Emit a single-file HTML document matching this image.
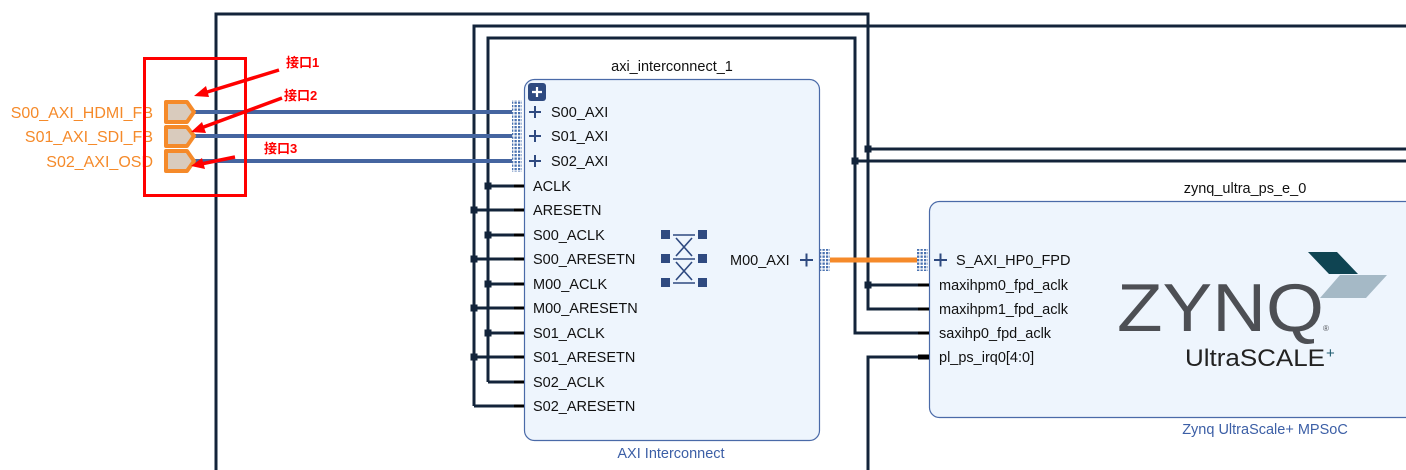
<!DOCTYPE html>
<html><head><meta charset="utf-8"><style>
html,body{margin:0;padding:0;background:#fff;width:1406px;height:470px;overflow:hidden}
svg{display:block}
text{font-family:"Liberation Sans","Noto Sans CJK SC",sans-serif}
</style></head><body>
<svg width="1406" height="470" viewBox="0 0 1406 470" xmlns="http://www.w3.org/2000/svg">
<defs>
<pattern id="dots" width="3.5" height="3.5" patternUnits="userSpaceOnUse"><rect width="2.3" height="2.3" fill="#4a72b0"/></pattern>
</defs>
<rect x="524.5" y="79.5" width="295" height="361" rx="10" fill="#eef5fd" stroke="#4a6aa8" stroke-width="1.2"/>
<rect x="929.5" y="201.5" width="500" height="216" rx="10" fill="#eef5fd" stroke="#4a6aa8" stroke-width="1.2"/>
<g stroke="#13243a" stroke-width="3" fill="none">
<polyline points="216,470 216,14 868,14 868,309 918,309"/>
<polyline points="474,406 474,26 1406,26"/>
<polyline points="488,382 488,38 855,38 855,333 918,333"/>
<line x1="868" y1="149" x2="1406" y2="149"/>
<line x1="855" y1="161" x2="1406" y2="161"/>
<line x1="868" y1="285" x2="918" y2="285"/>
<polyline points="868,470 868,357 918,357"/>
<line x1="488" y1="186" x2="514" y2="186"/><line x1="474" y1="210" x2="514" y2="210"/>
<line x1="488" y1="235" x2="514" y2="235"/><line x1="474" y1="259" x2="514" y2="259"/>
<line x1="488" y1="284" x2="514" y2="284"/><line x1="474" y1="308" x2="514" y2="308"/>
<line x1="488" y1="333" x2="514" y2="333"/><line x1="474" y1="357" x2="514" y2="357"/>
<line x1="488" y1="382" x2="514" y2="382"/><line x1="474" y1="406" x2="514" y2="406"/>
</g>
<g stroke="#000" stroke-width="3">
<line x1="514" y1="186" x2="524" y2="186"/><line x1="514" y1="210" x2="524" y2="210"/>
<line x1="514" y1="235" x2="524" y2="235"/><line x1="514" y1="259" x2="524" y2="259"/>
<line x1="514" y1="284" x2="524" y2="284"/><line x1="514" y1="308" x2="524" y2="308"/>
<line x1="514" y1="333" x2="524" y2="333"/><line x1="514" y1="357" x2="524" y2="357"/>
<line x1="514" y1="382" x2="524" y2="382"/><line x1="514" y1="406" x2="524" y2="406"/>
<line x1="918" y1="285" x2="929" y2="285"/><line x1="918" y1="309" x2="929" y2="309"/>
<line x1="918" y1="333" x2="929" y2="333"/><line x1="918" y1="357" x2="929" y2="357" stroke-width="5"/>
</g>
<g fill="#13243a">
<rect x="484.5" y="182.5" width="7" height="7"/><rect x="470.5" y="206.5" width="7" height="7"/>
<rect x="484.5" y="231.5" width="7" height="7"/><rect x="470.5" y="255.5" width="7" height="7"/>
<rect x="484.5" y="280.5" width="7" height="7"/><rect x="470.5" y="304.5" width="7" height="7"/>
<rect x="484.5" y="329.5" width="7" height="7"/><rect x="470.5" y="353.5" width="7" height="7"/>
<rect x="864.5" y="145.5" width="7" height="7"/><rect x="851.5" y="157.5" width="7" height="7"/>
<rect x="864.5" y="281.5" width="7" height="7"/>
</g>
<g stroke="#4565a0" stroke-width="4">
<line x1="193" y1="112" x2="512" y2="112"/><line x1="193" y1="136" x2="512" y2="136"/><line x1="193" y1="161" x2="512" y2="161"/>
</g>
<line x1="830" y1="260" x2="917" y2="260" stroke="#f58a2a" stroke-width="5"/>
<rect x="512" y="100" width="10" height="72" fill="url(#dots)"/>
<rect x="820" y="249" width="10" height="22" fill="url(#dots)"/>
<rect x="917" y="249" width="11" height="22" fill="url(#dots)"/>
<g fill="#d9cbbd" stroke="#f58a2a" stroke-width="4" stroke-linejoin="round">
<polygon points="166,102 187,102 194,112 187,122 166,122"/>
<polygon points="166,127 187,127 194,136 187,146 166,146"/>
<polygon points="166,151 187,151 194,161 187,171 166,171"/>
</g>
<g font-size="16" fill="#f58a2a" text-anchor="end">
<text x="153" y="118">S00_AXI_HDMI_FB</text>
<text x="153" y="142">S01_AXI_SDI_FB</text>
<text x="153" y="167">S02_AXI_OSD</text>
</g>
<rect x="144.5" y="58.5" width="101" height="137" fill="none" stroke="#ff0000" stroke-width="3"/>
<g stroke="#ff0000" stroke-width="3.5" fill="#ff0000">
<line x1="279" y1="70" x2="204" y2="93"/><polygon points="194,96 206,86 209,97" stroke="none"/>
<line x1="282" y1="98" x2="201" y2="128"/><polygon points="191,132 202,122 206,133" stroke="none"/>
<line x1="235" y1="157" x2="201" y2="164"/><polygon points="191,166 202,158 205,169" stroke="none"/>
</g>
<g font-size="13" font-weight="bold" fill="#ff0000">
<text x="286" y="67">接口1</text><text x="284" y="100">接口2</text><text x="264" y="153">接口3</text>
</g>
<text x="672" y="71" font-size="14.5" text-anchor="middle" fill="#111">axi_interconnect_1</text>
<rect x="528" y="83" width="18" height="18" rx="3" fill="#2f4a80"/>
<path d="M537 87v10M532 92h10" stroke="#fff" stroke-width="2.2"/>
<g stroke="#2f4a80" stroke-width="2">
<path d="M529 112h12M535 106v12M529 136h12M535 130v12M529 161h12M535 155v12M800 260h13M806.5 253.5v13M934 260h13M940.5 253.5v13"/>
</g>
<g font-size="14.5" fill="#111">
<text x="551" y="117">S00_AXI</text><text x="551" y="141">S01_AXI</text><text x="551" y="166">S02_AXI</text>
<text x="533" y="191">ACLK</text><text x="533" y="215">ARESETN</text><text x="533" y="240">S00_ACLK</text>
<text x="533" y="264">S00_ARESETN</text><text x="533" y="289">M00_ACLK</text><text x="533" y="313">M00_ARESETN</text>
<text x="533" y="338">S01_ACLK</text><text x="533" y="362">S01_ARESETN</text><text x="533" y="387">S02_ACLK</text>
<text x="533" y="411">S02_ARESETN</text>
<text x="730" y="265">M00_AXI</text>
<text x="956" y="265">S_AXI_HP0_FPD</text>
<text x="939" y="290">maxihpm0_fpd_aclk</text><text x="939" y="314">maxihpm1_fpd_aclk</text>
<text x="939" y="338">saxihp0_fpd_aclk</text><text x="939" y="362">pl_ps_irq0[4:0]</text>
</g>
<text x="671" y="458" font-size="14.5" text-anchor="middle" fill="#3c5fa6">AXI Interconnect</text>
<g fill="#2f4a80">
<rect x="661" y="230" width="9" height="9"/><rect x="698" y="230" width="9" height="9"/>
<rect x="661" y="254" width="9" height="9"/><rect x="698" y="254" width="9" height="9"/>
<rect x="661" y="278" width="9" height="9"/><rect x="698" y="278" width="9" height="9"/>
</g>
<g stroke="#2f4a80" stroke-width="1.6"><path d="M673 235h22M673 259h22M673 283h22M676 238l16 18M692 238l-16 18M676 262l16 18M692 262l-16 18"/></g>
<text x="1245" y="193" font-size="14.5" text-anchor="middle" fill="#111">zynq_ultra_ps_e_0</text>
<text x="1265" y="434" font-size="14.5" text-anchor="middle" fill="#3c5fa6">Zynq UltraScale+ MPSoC</text>
<text x="1117" y="331" font-size="68" fill="#4d4f54" textLength="207" lengthAdjust="spacingAndGlyphs">ZYNQ</text>
<text x="1323" y="331" font-size="8" fill="#4d4f54">®</text>
<text x="1185" y="366" font-size="24" fill="#222" textLength="140" lengthAdjust="spacingAndGlyphs">UltraSCALE</text>
<text x="1326" y="358" font-size="15" fill="#1d5a6e">+</text>
<polygon points="1308,252 1337,252 1358,274 1329,274" fill="#0f4452"/>
<polygon points="1340,275 1387,275 1366,298 1320,298" fill="#a5b9c6"/>
</svg>
</body></html>
